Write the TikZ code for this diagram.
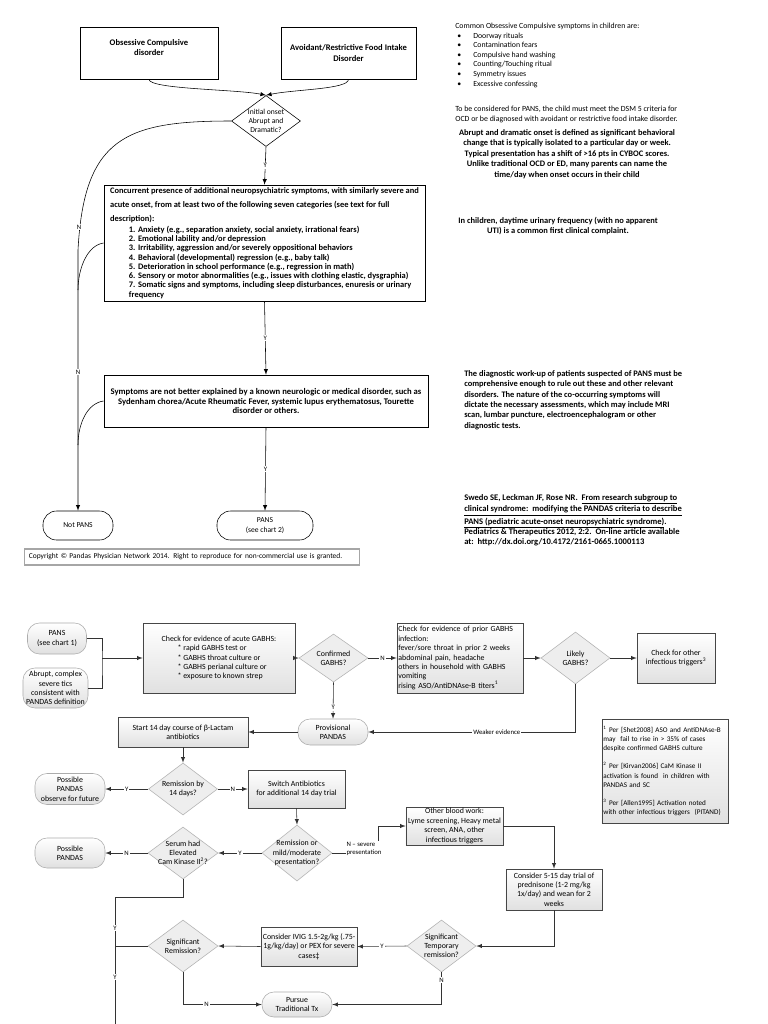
\documentclass[tikz,border=0pt]{standalone}
\usepackage{fontspec}
\setmainfont{Carlito}
\usetikzlibrary{shapes.geometric}

\tikzset{
	topbox/.style={draw, rectangle, align=center, inner sep=1pt, font=\fontsize{6.1}{7.2}\selectfont\bfseries},
	topcheck/.style={draw, diamond, aspect=1.35, inner sep=-1.5pt, align=center, fill=white, font=\fontsize{5.4}{6.4}\selectfont},
	terminal/.style={draw, rectangle, rounded corners=0.34cm, align=center, font=\fontsize{5.4}{6.6}\selectfont},
	yn/.style={fill=white, inner sep=0.7pt, font=\fontsize{4.8}{5.6}\selectfont},
	sidenote/.style={inner sep=0pt, align=left, font=\fontsize{5.55}{6.8}\selectfont},
	process/.style={draw=gray!55!black, rectangle, align=center, inner sep=1pt, top color=white, bottom color=gray!24, font=\fontsize{5.6}{6.7}\selectfont},
	roundproc/.style={process, draw=gray!65, rounded corners=0.3cm},
	decision/.style={draw=gray!60, diamond, aspect=1.35, inner sep=-2.5pt, align=center, fill=gray!13, font=\fontsize{5.6}{6.6}\selectfont},
	flow/.style={-latex, draw=gray!40!black}
}

\begin{document}
\begin{tikzpicture}[x=0.025cm, y=-0.025cm]

	\fill[white] (0,0) rectangle (768,1024);
	\useasboundingbox (0,0) rectangle (768,1024);

	%Chart 1 blocks
	\node (ObsessiveCompulsive) at (149,53) [topbox, minimum width=3.45cm, minimum height=1.3cm]{Obsessive Compulsive\\disorder\\[1pt]\mbox{}};
	\node (AvoidantRestrictive) at (348.5,53) [topbox, minimum width=3.38cm, minimum height=1.3cm]{Avoidant/Restrictive Food Intake\\Disorder};
	\node (InitialOnset) at (266,121) [topcheck, minimum width=1.725cm, minimum height=1.275cm]{Initial onset\\Abrupt and\\Dramatic?};
	\node (ConcurrentSymptoms) at (264.5,243) [topbox, align=left, minimum width=8.025cm, minimum height=2.9cm, font=\fontsize{6}{6.6}\selectfont\bfseries]{%
		Concurrent presence of additional neuropsychiatric symptoms, with similarly severe and\\[3.3pt]
		acute onset, from at least two of the following seven categories (see text for full\\[3.3pt]
		description):\\[1.2pt]
		\hspace*{0.47cm}1. Anxiety (e.g., separation anxiety, social anxiety, irrational fears)\\
		\hspace*{0.47cm}2. Emotional lability and/or depression\\
		\hspace*{0.47cm}3. Irritability, aggression and/or severely oppositional behaviors\\
		\hspace*{0.47cm}4. Behavioral (developmental) regression (e.g., baby talk)\\
		\hspace*{0.47cm}5. Deterioration in school performance (e.g., regression in math)\\
		\hspace*{0.47cm}6. Sensory or motor abnormalities (e.g., issues with clothing elastic, dysgraphia)\\
		\hspace*{0.47cm}7. Somatic signs and symptoms, including sleep disturbances, enuresis or urinary\\
		\hspace*{0.47cm}frequency};
	\node (NotBetterExplained) at (266,401) [topbox, minimum width=8.1cm, minimum height=1.3cm, font=\fontsize{6.15}{7.1}\selectfont\bfseries]{Symptoms are not better explained by a known neurologic or medical disorder, such as\\Sydenham chorea/Acute Rheumatic Fever, systemic lupus erythematosus, Tourette\\disorder or others.};
	\node (NotPANS) at (78,525.5) [terminal, minimum width=1.75cm, minimum height=0.725cm]{Not PANS};
	\node (PANSChartTwo) at (265,525.5) [terminal, minimum width=2.4cm, minimum height=0.725cm]{PANS\\(see chart 2)};
	\node (Copyright) at (192,557) [draw=gray!70, line width=0.8pt, rectangle, minimum width=8.3cm, minimum height=0.4cm, text width=8.15cm, align=left, font=\fontsize{5.3}{6}\selectfont]{Copyright \textcopyright{} Pandas Physician Network 2014. Right to reproduce for non-commercial use is granted.};

	%Chart 1 links
	\coordinate (NBend) at (78,250);
	\coordinate (MergeOne) at (78,290);
	\coordinate (MergeTwo) at (78,445);
	\draw[-latex] (ObsessiveCompulsive.south) .. controls +(0,10) and +(-30,-6) .. (InitialOnset.north);
	\draw[-latex] (AvoidantRestrictive.south) .. controls +(0,10) and +(30,-6) .. (InitialOnset.north);
	\draw[-latex] (InitialOnset.south) -- node[yn]{Y} (ConcurrentSymptoms.north);
	\draw[-latex] (ConcurrentSymptoms.south) -- node[yn]{Y} (NotBetterExplained.north);
	\draw[-latex] (NotBetterExplained.south) -- node[yn]{Y} (PANSChartTwo.north);
	\draw[-latex] (InitialOnset.west) .. controls (125,121) and (84,138) .. (NBend) -- (NotPANS.north);
	\draw (ConcurrentSymptoms.west) .. controls +(-16,2) and +(0,-22) .. (MergeOne);
	\draw (NotBetterExplained.west) .. controls +(-16,2) and +(0,-22) .. (MergeTwo);
	\node (NFirst) at (79,227) [yn]{N};
	\node (NSecond) at (78,372) [yn]{N};

	%Side notes
	\node (CommonSymptoms) at (455,23) [sidenote, anchor=north west]{Common Obsessive Compulsive symptoms in children are:\\
		\hspace*{0.05cm}\makebox[0.4cm][l]{\textbullet}Doorway rituals\\
		\hspace*{0.05cm}\makebox[0.4cm][l]{\textbullet}Contamination fears\\
		\hspace*{0.05cm}\makebox[0.4cm][l]{\textbullet}Compulsive hand washing\\
		\hspace*{0.05cm}\makebox[0.4cm][l]{\textbullet}Counting/Touching ritual\\
		\hspace*{0.05cm}\makebox[0.4cm][l]{\textbullet}Symmetry issues\\
		\hspace*{0.05cm}\makebox[0.4cm][l]{\textbullet}Excessive confessing};
	\node (DSMCriteria) at (455,106) [sidenote, anchor=north west, font=\fontsize{5.6}{7}\selectfont]{To be considered for PANS, the child must meet the DSM 5 criteria for\\OCD or be diagnosed with avoidant or restrictive food intake disorder.};
	\node (AbruptOnset) at (567,129) [sidenote, anchor=north, align=center, font=\fontsize{6}{7.5}\selectfont\bfseries]{Abrupt and dramatic onset is defined as significant behavioral\\change that is typically isolated to a particular day or week.\\Typical presentation has a shift of >16 pts in CYBOC scores.\\Unlike traditional OCD or ED, many parents can name the\\time/day when onset occurs in their child};
	\node (UrinaryFrequency) at (558,217) [sidenote, anchor=north, align=center, font=\fontsize{6}{7.1}\selectfont\bfseries]{In children, daytime urinary frequency (with no apparent\\UTI) is a common first clinical complaint.};
	\node (DiagnosticWorkup) at (464,370) [sidenote, anchor=north west, font=\fontsize{6}{7.4}\selectfont\bfseries]{The diagnostic work-up of patients suspected of PANS must be\\comprehensive enough to rule out these and other relevant\\disorders. The nature of the co-occurring symptoms will\\dictate the necessary assessments, which may include MRI\\scan, lumbar puncture, electroencephalogram or other\\diagnostic tests.};
	\node (SwedoCitation) at (464,494) [sidenote, anchor=north west, font=\fontsize{6.1}{7.3}\selectfont\bfseries]{Swedo SE, Leckman JF, Rose NR.\ \ \underline{From research subgroup to}\\\underline{clinical syndrome:\ \ modifying the PANDAS criteria to describe}\\\underline{PANS (pediatric acute-onset neuropsychiatric syndrome)}.\\Pediatrics \& Therapeutics 2012, 2:2.\ \ On-line article available\\at:\ \ http://dx.doi.org/10.4172/2161-0665.1000113};

	%Chart 2 blocks
	\node (PANSChartOne) at (57,638.5) [roundproc, minimum width=1.475cm, minimum height=0.775cm]{PANS\\(see chart 1)};
	\node (AbruptTics) at (55.5,688) [roundproc, minimum width=1.625cm, minimum height=1cm]{Abrupt, complex\\severe tics\\consistent with\\PANDAS definition};
	\node (AcuteGABHS) at (219,658) [process, minimum width=3.8cm, minimum height=1.75cm, align=left]{Check for evidence of acute GABHS:\\\hspace*{0.4cm}* rapid GABHS test or\\\hspace*{0.4cm}* GABHS throat culture or\\\hspace*{0.4cm}* GABHS perianal culture or\\\hspace*{0.4cm}* exposure to known strep};
	\node (ConfirmedGABHS) at (333.5,658) [decision, minimum width=1.725cm, minimum height=1.2cm]{Confirmed\\GABHS?};
	\node (PriorGABHS) at (460,658) [process, minimum width=3.15cm, minimum height=1.75cm, text width=3.08cm, align=left]{Check for evidence of prior GABHS\\infection:\\* fever/sore throat in prior 2 weeks\\* abdominal pain, headache\\* others in household with GABHS\\* vomiting\\* rising ASO/AntiDNAse-B titers\textsuperscript{1}};
	\node (LikelyGABHS) at (575.5,658) [decision, minimum width=1.725cm, minimum height=1.3cm]{Likely\\GABHS?};
	\node (OtherTriggers) at (676,658) [process, minimum width=1.95cm, minimum height=1.25cm]{Check for other\\infectious triggers\textsuperscript{3}};
	\node (ProvisionalPANDAS) at (333,732) [roundproc, minimum width=1.75cm, minimum height=0.65cm]{Provisional\\PANDAS};
	\node (StartAntibiotics) at (183,732) [process, minimum width=3.25cm, minimum height=0.75cm]{Start 14 day course of β-Lactam\\antibiotics};
	\node (RemissionFourteen) at (183,789) [decision, minimum width=1.725cm, minimum height=1.3cm]{Remission by\\14 days?};
	\node (PossibleObserve) at (70,789) [roundproc, minimum width=1.75cm, minimum height=0.775cm]{Possible\\PANDAS\\observe for future};
	\node (SwitchAntibiotics) at (296.5,789) [process, minimum width=2.425cm, minimum height=0.95cm]{Switch Antibiotics\\for additional 14 day trial};
	\node (MildModerate) at (297,853) [decision, minimum width=1.75cm, minimum height=1.4cm]{Remission or\\mild/moderate\\presentation?};
	\node (SerumKinase) at (183,853) [decision, minimum width=1.75cm, minimum height=1.3cm]{Serum had\\Elevated\\Cam Kinase II\textsuperscript{2}?};
	\node (PossiblePANDAS) at (70,853) [roundproc, minimum width=1.75cm, minimum height=0.75cm]{Possible\\PANDAS};
	\node (OtherBloodWork) at (454.5,826) [process, minimum width=2.425cm, minimum height=0.95cm]{Other blood work:\\Lyme screening, Heavy metal\\screen, ANA, other\\infectious triggers};
	\node (Prednisone) at (554,889.5) [process, minimum width=2.4cm, minimum height=1.025cm]{Consider 5-15 day trial of\\prednisone (1-2 mg/kg\\1x/day) and wean for 2\\weeks};
	\node (TemporaryRemission) at (441.5,946) [decision, minimum width=1.725cm, minimum height=1.3cm]{Significant\\Temporary\\remission?};
	\node (ConsiderIVIG) at (309,946.5) [process, minimum width=2.4cm, minimum height=0.975cm]{Consider IVIG 1.5-2g/kg (.75-\\1g/kg/day) or PEX for severe\\cases‡};
	\node (SignificantRemission) at (183,946) [decision, minimum width=1.75cm, minimum height=1.3cm]{Significant\\Remission?};
	\node (PursueTraditional) at (297,1004.5) [roundproc, minimum width=1.75cm, minimum height=0.625cm]{Pursue\\Traditional Tx};
	\node (Footnotes) at (665,771) [process, minimum width=3.15cm, minimum height=2.6cm, text width=3.08cm, align=left, font=\fontsize{5.1}{6.7}\selectfont]{%
		\textsuperscript{1} Per [Shet2008] ASO and AntiDNAse-B\\may\ \ fail to rise in > 35\% of cases\\despite confirmed GABHS culture\\[6pt]
		\textsuperscript{2} Per [Kirvan2006] CaM Kinase II\\activation is found\ \ in children with\\PANDAS and SC\\[6pt]
		\textsuperscript{3} Per [Allen1995] Activation noted\\with other infectious triggers\ \ (PITAND)};

	%Chart 2 links
	\coordinate (TicsJoin) at (102,663);
	\coordinate (SevereBend) at (378,853);
	\coordinate (PageEnd) at (115,1024);
	\draw[flow, -] (PANSChartOne.east) -| (TicsJoin) |- (AbruptTics.east);
	\draw[flow] (TicsJoin |- AcuteGABHS.west) -- (AcuteGABHS.west);
	\draw[flow] (AcuteGABHS.east) -- (ConfirmedGABHS.west);
	\draw[flow] (ConfirmedGABHS.east) -- node[yn]{N} (PriorGABHS.west);
	\draw[flow] (PriorGABHS.east) -- (LikelyGABHS.west);
	\draw[flow] (LikelyGABHS.east) -- (OtherTriggers.west);
	\draw[flow] (ConfirmedGABHS.south) -- node[yn, pos=0.7]{Y} (ProvisionalPANDAS.north);
	\draw[flow] (LikelyGABHS.south) |- node[yn, pos=0.69]{Weaker evidence} (ProvisionalPANDAS.east);
	\draw[flow] (ProvisionalPANDAS.west) -- (StartAntibiotics.east);
	\draw[flow] (StartAntibiotics.south) -- (RemissionFourteen.north);
	\draw[flow] (RemissionFourteen.west) -- node[yn]{Y} (PossibleObserve.east);
	\draw[flow] (RemissionFourteen.east) -- node[yn]{N} (SwitchAntibiotics.west);
	\draw[flow] (SwitchAntibiotics.south) -- (MildModerate.north);
	\draw[flow] (MildModerate.west) -- node[yn]{Y} (SerumKinase.east);
	\draw[flow] (SerumKinase.west) -- node[yn]{N} (PossiblePANDAS.east);
	\draw[flow] (MildModerate.east) -- (SevereBend) |- (OtherBloodWork.west);
	\node (SevereLabel) at (364,849) [yn, align=left]{N -- severe\\presentation};
	\draw[flow] (OtherBloodWork.east) -| (Prednisone.north);
	\draw[flow] (Prednisone.south) |- (TemporaryRemission.east);
	\draw[flow] (TemporaryRemission.west) -- node[yn]{Y} (ConsiderIVIG.east);
	\draw[flow] (ConsiderIVIG.west) -- (SignificantRemission.east);
	\draw[flow] (TemporaryRemission.south) |- node[yn, pos=0.12]{N} (PursueTraditional.east);
	\draw[flow] (SignificantRemission.south) |- node[yn, pos=0.65]{N} (PursueTraditional.west);
	\draw[flow, -] (SerumKinase.south) -- ++(0,18) -| (PageEnd);
	\draw[flow, -] (SignificantRemission.west) -- (SignificantRemission.west -| PageEnd);
	\node (YFirst) at (115,928) [yn]{Y};
	\node (YSecond) at (115,977) [yn]{Y};

\end{tikzpicture}
\end{document}
